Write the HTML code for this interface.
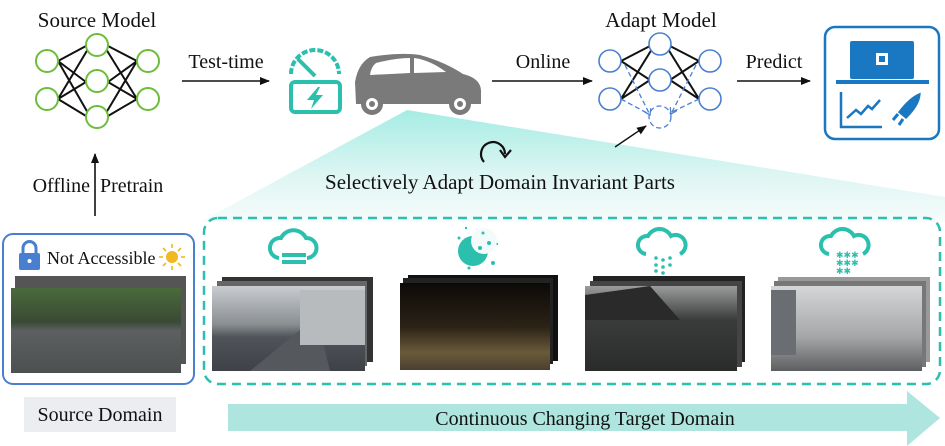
<!DOCTYPE html>
<html><head><meta charset="utf-8"><style>
html,body{margin:0;padding:0;background:#fff;width:945px;height:446px;overflow:hidden}
svg{display:block}
</style></head><body>
<svg width="945" height="446" viewBox="0 0 945 446" xmlns="http://www.w3.org/2000/svg" font-family="'Liberation Serif', serif" fill="#111">
<defs>
<linearGradient id="tri" x1="0" y1="0" x2="0" y2="1">
<stop offset="0" stop-color="#a6ece4"/><stop offset="0.6" stop-color="#dff6f3"/><stop offset="1" stop-color="#f6fcfb"/></linearGradient>
<linearGradient id="day" x1="0" y1="0" x2="0" y2="1"><stop offset="0" stop-color="#c9ccd0"/><stop offset="0.45" stop-color="#8a8f92"/><stop offset="0.6" stop-color="#50545a"/><stop offset="1" stop-color="#3e4146"/></linearGradient>
<linearGradient id="night" x1="0" y1="0" x2="0" y2="1"><stop offset="0" stop-color="#0c0a08"/><stop offset="0.5" stop-color="#2b2216"/><stop offset="0.8" stop-color="#6a5a3a"/><stop offset="1" stop-color="#4a4030"/></linearGradient>
<linearGradient id="rain" x1="0" y1="0" x2="0" y2="1"><stop offset="0" stop-color="#9a9c9c"/><stop offset="0.4" stop-color="#3a3c3c"/><stop offset="1" stop-color="#2a2c2c"/></linearGradient>
<linearGradient id="snow" x1="0" y1="0" x2="0" y2="1"><stop offset="0" stop-color="#d4d6d8"/><stop offset="0.6" stop-color="#a4a6a8"/><stop offset="1" stop-color="#5c5e60"/></linearGradient>
<linearGradient id="src" x1="0" y1="0" x2="0" y2="1"><stop offset="0" stop-color="#4a6a3c"/><stop offset="0.4" stop-color="#3a4a34"/><stop offset="0.5" stop-color="#5c6060"/><stop offset="1" stop-color="#4c5050"/></linearGradient>
<marker id="ah" markerWidth="10" markerHeight="8" refX="9" refY="4" orient="auto" markerUnits="userSpaceOnUse"><path d="M0,0 L10,4 L0,8 z" fill="#111"/></marker>
<marker id="ahb" markerWidth="8" markerHeight="8" refX="6" refY="4" orient="auto" markerUnits="userSpaceOnUse"><path d="M0,0 L6,4 L0,8" fill="none" stroke="#4a7fd0" stroke-width="1.2"/></marker>
</defs>

<polygon points="407,110 945,197 945,222 200,222" fill="url(#tri)"/>

<text x="97" y="27" font-size="21" text-anchor="middle">Source Model</text>
<g stroke="#111" stroke-width="2">
<line x1="58" y1="61" x2="86" y2="46"/><line x1="58" y1="61" x2="86" y2="82"/><line x1="58" y1="61" x2="88" y2="113"/>
<line x1="58" y1="99" x2="88" y2="49"/><line x1="58" y1="99" x2="86" y2="82"/><line x1="58" y1="99" x2="86" y2="116"/>
<line x1="137" y1="61" x2="108" y2="46"/><line x1="137" y1="61" x2="108" y2="82"/><line x1="137" y1="61" x2="106" y2="113"/>
<line x1="137" y1="99" x2="106" y2="49"/><line x1="137" y1="99" x2="108" y2="82"/><line x1="137" y1="99" x2="108" y2="116"/>
</g>
<g fill="#fff" stroke="#6cbd3a" stroke-width="2">
<circle cx="47" cy="61" r="11"/><circle cx="47" cy="99" r="11"/>
<circle cx="97" cy="45" r="11"/><circle cx="97" cy="81" r="11"/><circle cx="97" cy="117" r="11"/>
<circle cx="148" cy="61" r="11"/><circle cx="148" cy="99" r="11"/>
</g>

<text x="226" y="68" font-size="20" text-anchor="middle">Test-time</text>
<line x1="182" y1="81" x2="269" y2="81" stroke="#111" stroke-width="1.6" marker-end="url(#ah)"/>

<g stroke="#2bbfae" fill="none" stroke-width="4">
<path d="M291,74 A24,24 0 0 1 339,74" stroke-dasharray="6,2"/>
<line x1="298" y1="59" x2="315" y2="76"/>
<rect x="291" y="82" width="49" height="30" rx="4"/>
</g>
<polygon points="318,87 307,100 314,100 311,109 323,95 316,95 320,87" fill="#2bbfae"/>

<path d="M356,104 L355,82 Q358,64 370,57 Q400,52 420,55 Q445,62 463,74 Q480,78 481,90 L481,104 Z" fill="#7a7a7a"/>
<path d="M376,63 Q395,58 410,58 L410,73 L370,75 Q371,67 376,63 Z" fill="#fff"/>
<path d="M414,58 Q430,60 446,72 L414,73 Z" fill="#fff"/>
<circle cx="372" cy="104" r="11" fill="#7a7a7a"/><circle cx="372" cy="104" r="6" fill="#fff"/><circle cx="372" cy="104" r="3" fill="#7a7a7a"/>
<circle cx="460" cy="104" r="11" fill="#7a7a7a"/><circle cx="460" cy="104" r="6" fill="#fff"/><circle cx="460" cy="104" r="3" fill="#7a7a7a"/>

<text x="543" y="68" font-size="20" text-anchor="middle">Online</text>
<line x1="492" y1="81" x2="592" y2="81" stroke="#111" stroke-width="1.6" marker-end="url(#ah)"/>

<text x="661" y="27" font-size="21" text-anchor="middle">Adapt Model</text>
<g stroke="#111" stroke-width="2">
<line x1="621" y1="61" x2="650" y2="46"/><line x1="621" y1="61" x2="650" y2="80"/>
<line x1="621" y1="99" x2="652" y2="49"/><line x1="621" y1="99" x2="650" y2="80"/>
<line x1="699" y1="61" x2="670" y2="46"/><line x1="699" y1="61" x2="670" y2="80"/>
<line x1="699" y1="99" x2="668" y2="49"/><line x1="699" y1="99" x2="670" y2="80"/>
</g>
<g stroke="#4a7fd0" stroke-width="1.3" stroke-dasharray="5,3" fill="none">
<line x1="625" y1="65" x2="650" y2="115" marker-end="url(#ahb)"/>
<line x1="621" y1="99" x2="647" y2="113"/>
<line x1="696" y1="65" x2="671" y2="114" marker-end="url(#ahb)"/>
<line x1="699" y1="99" x2="672" y2="112"/>
<circle cx="660" cy="117" r="11"/>
</g>
<g fill="#fff" stroke="#4a7fd0" stroke-width="1.6">
<circle cx="610" cy="61" r="11"/><circle cx="610" cy="99" r="11"/>
<circle cx="660" cy="44" r="11"/><circle cx="660" cy="80" r="11"/>
<circle cx="710" cy="61" r="11"/><circle cx="710" cy="99" r="11"/>
</g>
<line x1="615" y1="147" x2="646" y2="126" stroke="#111" stroke-width="1.4" marker-end="url(#ah)"/>

<text x="774" y="68" font-size="20" text-anchor="middle">Predict</text>
<line x1="737" y1="81" x2="810" y2="81" stroke="#111" stroke-width="1.6" marker-end="url(#ah)"/>
<rect x="825" y="27" width="114" height="112" rx="10" fill="#fff" stroke="#1a78c2" stroke-width="2.5"/>
<rect x="850" y="41" width="64" height="38" rx="2" fill="#1a78c2"/>
<rect x="836" y="80" width="93" height="4" fill="#1a78c2"/>
<rect x="876" y="53" width="12" height="12" fill="#fff"/><rect x="879" y="56" width="6" height="6" fill="#1a78c2"/>
<path d="M841,92 V127 H882" fill="none" stroke="#1a78c2" stroke-width="2.5"/>
<polyline points="847,118 856,110 861,114 868,106 872,109 880,100" fill="none" stroke="#1a78c2" stroke-width="2.5"/>
<path d="M919,95 Q918,105 906,117 L900,112 Q910,99 919,95 Z M898,114 L893,120 M903,119 L899,125" fill="#1a78c2" stroke="#1a78c2" stroke-width="3"/>

<path d="M484,162 A12,12 0 1 1 505,154" fill="none" stroke="#111" stroke-width="2.2"/>
<path d="M500,150 L505,157 L511,150" fill="none" stroke="#111" stroke-width="2.2"/>
<text x="500" y="189" font-size="21" text-anchor="middle">Selectively Adapt Domain Invariant Parts</text>

<line x1="95" y1="216" x2="95" y2="154" stroke="#111" stroke-width="1.6" marker-end="url(#ah)"/>
<text x="90" y="192" font-size="20" text-anchor="end">Offline</text>
<text x="100" y="192" font-size="20">Pretrain</text>

<rect x="3" y="234" width="191" height="150" rx="10" fill="#fff" stroke="#4a7fd0" stroke-width="2"/>
<rect x="19" y="253" width="21" height="17" rx="2" fill="#4a7fd0"/>
<path d="M23,253 V248 A6.5,6.5 0 0 1 36,248 V253" fill="none" stroke="#4a7fd0" stroke-width="3"/>
<circle cx="29.5" cy="261" r="2" fill="#fff"/>
<text x="47" y="264" font-size="18">Not Accessible</text>
<circle cx="172" cy="257" r="6" fill="#f0b921"/>
<g stroke="#f0b921" stroke-width="1.6"><line x1="172" y1="244" x2="172" y2="248"/><line x1="172" y1="266" x2="172" y2="270"/><line x1="159" y1="257" x2="163" y2="257"/><line x1="181" y1="257" x2="185" y2="257"/><line x1="163" y1="248" x2="166" y2="251"/><line x1="178" y1="263" x2="181" y2="266"/><line x1="181" y1="248" x2="178" y2="251"/><line x1="163" y1="266" x2="166" y2="263"/></g>
<rect x="15" y="276" width="171" height="88" fill="#555"/>
<rect x="11" y="288" width="170" height="85" fill="url(#src)"/>

<rect x="24" y="397" width="152" height="35" fill="#ecedf0"/>
<text x="100" y="421" font-size="20" text-anchor="middle">Source Domain</text>

<rect x="204" y="218" width="736" height="166" rx="14" fill="none" stroke="#2bbfae" stroke-width="2.5" stroke-dasharray="9,6"/>

<g fill="none" stroke="#2bbfae" stroke-width="4">
<path d="M279,258 A10,10 0 0 1 281,238 A14,14 0 0 1 306,238 A10,10 0 0 1 307,258"/>
<path d="M646,254 A9,9 0 0 1 648,236 A13,13 0 0 1 671,236 A9,9 0 0 1 680,254"/>
<path d="M829,254 A9,9 0 0 1 831,236 A13,13 0 0 1 854,236 A9,9 0 0 1 863,254"/>
</g>
<g fill="#2bbfae"><rect x="282" y="253" width="24" height="4"/><rect x="282" y="260" width="24" height="4"/>
<circle cx="473" cy="251" r="15"/>
<circle cx="459" cy="238" r="1.5"/><circle cx="469" cy="268" r="1.5"/><circle cx="493" cy="263" r="2"/><circle cx="466" cy="228" r="1.2"/><circle cx="497" cy="244" r="1.2"/>
<circle cx="656" cy="258" r="1.8"/><circle cx="663" cy="260" r="1.8"/><circle cx="670" cy="258" r="1.8"/><circle cx="656" cy="265" r="1.8"/><circle cx="663" cy="267" r="1.8"/><circle cx="670" cy="265" r="1.8"/><circle cx="656" cy="271" r="1.8"/><circle cx="663" cy="273" r="1.8"/>
</g>
<circle cx="484" cy="241" r="13" fill="#f2fbfa"/>
<circle cx="480" cy="248" r="2" fill="#2bbfae"/><circle cx="489" cy="243" r="2" fill="#2bbfae"/><circle cx="483" cy="233" r="1.5" fill="#2bbfae"/>
<g font-size="9" font-family="DejaVu Sans, sans-serif" fill="#2bbfae"><text x="836" y="258">✱✱✱</text><text x="836" y="266">✱✱✱</text><text x="836" y="274">✱✱</text></g>

<rect x="222" y="277" width="151" height="85" fill="#333"/><rect x="217" y="281" width="150" height="85" fill="#666"/>
<rect x="212" y="286" width="153" height="85" fill="url(#day)"/>
<polygon points="250,371 300,330 320,330 330,371" fill="#55585c"/>
<rect x="300" y="290" width="65" height="55" fill="#b8bbbe"/>
<rect x="408" y="275" width="150" height="86" fill="#111"/><rect x="403" y="278" width="150" height="86" fill="#222"/>
<rect x="400" y="283" width="150" height="87" fill="url(#night)"/>
<rect x="593" y="276" width="152" height="86" fill="#222"/><rect x="590" y="281" width="152" height="86" fill="#444"/>
<rect x="585" y="286" width="152" height="85" fill="url(#rain)"/>
<polygon points="585,295 650,286 680,320 585,320" fill="#2a2a2a"/>
<rect x="778" y="277" width="152" height="85" fill="#999"/><rect x="774" y="281" width="152" height="86" fill="#777"/>
<rect x="771" y="286" width="151" height="85" fill="url(#snow)"/>
<rect x="771" y="290" width="25" height="65" fill="#6a6e72"/>

<polygon points="228,404 907,404 907,391 940,418 907,446 907,431 228,431" fill="#aee5df"/>
<text x="585" y="425" font-size="20" text-anchor="middle">Continuous Changing Target Domain</text>
</svg>
</body></html>
